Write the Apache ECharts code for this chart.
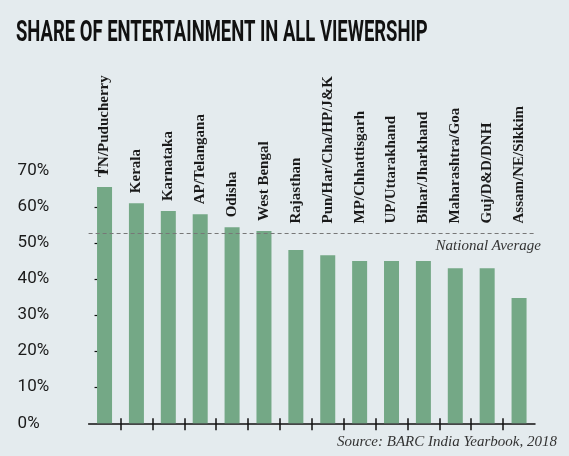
<!DOCTYPE html>
<html><head><meta charset="utf-8">
<script src="https://cdn.jsdelivr.net/npm/echarts@6/dist/echarts.min.js"></script>
<style>html,body{margin:0;padding:0;background:#e4ebee}#c{width:569px;height:456px}</style>
</head><body><div id="c"></div>
<script>
const categories = ['TN/Puducherry','Kerala','Karnataka','AP/Telangana','Odisha','West Bengal','Rajasthan','Pun/Har/Cha/HP/J&K','MP/Chhattisgarh','UP/Uttarakhand','Bihar/Jharkhand','Maharashtra/Goa','Guj/D&D/DNH','Assam/NE/Sikkim'];
const shares = [65.5, 61, 58.8, 57.9, 54.3, 53.3, 48, 46.6, 45, 45, 45, 43, 43, 34.7];
const nationalAverage = 52.6;
const yLabelValues = [0,10,20,30,40,50,60,70];
const yTickValues = [10,20,30,40,50,60,70];
const titleText = 'SHARE OF ENTERTAINMENT IN ALL VIEWERSHIP';
const sourceText = 'Source: BARC India Yearbook, 2018';
const avgLabel = 'National Average';

const chart = echarts.init(document.getElementById('c'));
const bandTicks = categories.slice(1).map((_, i) => i + 0.5);
const tickAxis = (inside, len) => ({
  type: 'value', min: -0.5, max: categories.length - 0.5, gridIndex: 0, position: 'bottom',
  axisLine: {show: false}, splitLine: {show: false}, axisLabel: {show: false},
  axisTick: {show: true, inside: inside, length: len, customValues: bandTicks, lineStyle: {color: '#111', width: 1.5}}
});
function build(distances) {
  return {
    backgroundColor: '#e4ebee',
    animation: false,
    grid: {left: 88.6, right: 34, top: 170.7, bottom: 32.7},
    graphic: [
      {type: 'text', left: 16, top: 18, scaleX: 0.615, style: {text: titleText, font: 'bold 30px Roboto', fill: '#111'}},
      {type: 'text', right: 12, top: 435, style: {text: sourceText, font: 'italic 15px "Liberation Serif"', fill: '#333'}}
    ],
    xAxis: [
      {type: 'category', data: categories, boundaryGap: true,
       axisLine: {show: true, lineStyle: {color: '#111', width: 1.5}},
       axisTick: {show: false}, axisLabel: {show: false}},
      tickAxis(false, 7),
      tickAxis(true, 5)
    ],
    yAxis: {
      type: 'value', min: 0, max: 70, position: 'left', offset: 15,
      axisLine: {show: false}, splitLine: {show: false},
      axisTick: {show: true, length: 10, customValues: yTickValues, lineStyle: {color: '#111', width: 1.2}},
      axisLabel: {customValues: yLabelValues, formatter: '{value}%', align: 'left', margin: 56,
        fontFamily: 'Roboto', fontSize: 17, color: '#1a1a1a'}
    },
    series: [{
      type: 'bar', xAxisIndex: 0, barWidth: 15,
      itemStyle: {color: '#74a886'},
      data: shares.map((v, i) => ({value: v, label: {distance: distances[i]}})),
      label: {show: true, position: 'top', rotate: 90, align: 'left', verticalAlign: 'middle',
        formatter: p => categories[p.dataIndex],
        fontFamily: '"Liberation Serif"', fontWeight: 'bold', fontSize: 15, color: '#1a1a1a'},
      markLine: {
        silent: true, symbol: 'none',
        lineStyle: {type: [4, 3], color: '#777', width: 1},
        data: [{yAxis: nationalAverage}],
        label: {show: true, position: 'insideEndBottom', formatter: avgLabel, distance: [-6, 5],
          fontFamily: '"Liberation Serif"', fontStyle: 'italic', fontSize: 15, color: '#333'}
      }
    }]
  };
}
chart.setOption(build(shares.map(() => 10)));
const ppu = (chart.convertToPixel({yAxisIndex: 0}, 0) - chart.convertToPixel({yAxisIndex: 0}, 10)) / 10;
chart.setOption(build(shares.map(v => 10 + Math.max(0, nationalAverage - v) * ppu)));
</script></body></html>
